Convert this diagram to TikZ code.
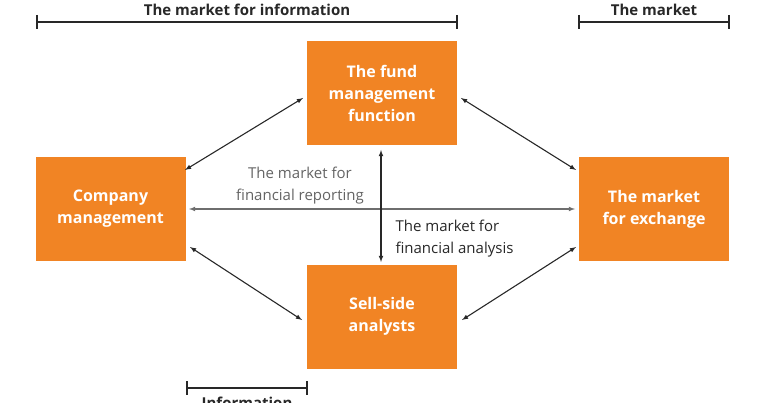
\documentclass[tikz,border=0pt]{standalone}
\usepackage{fontspec}
\setmainfont{Open Sans}
\begin{document}
\begin{tikzpicture}[x=1pt,y=-1pt,
  box/.style={fill={rgb,255:red,241;green,132;blue,36}, minimum width=150pt, minimum height=104pt, inner sep=0pt, align=center, text=white, font=\fontsize{16}{22}\selectfont\bfseries},
  arr/.style={<->, >=latex, line width=1.1pt, draw={rgb,255:red,40;green,40;blue,40}},
  garr/.style={<->, >=latex, line width=1.1pt, draw={rgb,255:red,110;green,110;blue,110}},
  lab/.style={font=\fontsize{15}{22}\selectfont, align=center},
  brk/.style={line width=1.4pt, draw={rgb,255:red,40;green,40;blue,40}},
  btxt/.style={font=\fontsize{15}{18}\selectfont\bfseries, text={rgb,255:red,40;green,40;blue,40}}]
\useasboundingbox (0,0) rectangle (767,403);
\node[box] (fund) at (382,93.5) {The fund\\management\\function};
\node[box] (comp) at (110.5,209) {Company\\management};
\node[box] (exch) at (654,209) {The market\\for exchange};
\node[box] (sell) at (382,316.5) {Sell-side\\analysts};
\draw[arr] (185,170) -- (303,98);
\draw[arr] (461,98) -- (576,170);
\draw[arr] (190,247) -- (302,320);
\draw[arr] (462,320) -- (576,247);
\draw[garr] (189,209) -- (575,209);
\draw[arr] (381,150) -- (381,262);
\node[lab, text={rgb,255:red,100;green,100;blue,100}] (frep) at (300,186) {The market for\\financial reporting};
\node[lab, text={rgb,255:red,40;green,40;blue,40}, anchor=west, align=left] (fan) at (392,239) {The market for\\financial analysis};
\coordinate (a1) at (37,22); \coordinate (a2) at (457,22);
\draw[brk] (a1) -- (a2) (37,15) -- (37,29) (457,15) -- (457,29);
\node[btxt] (t1) at (247,10) {The market for information};
\coordinate (b1) at (579,22); \coordinate (b2) at (729,22);
\draw[brk] (b1) -- (b2) (579,15) -- (579,29) (729,15) -- (729,29);
\node[btxt] (t2) at (654,10) {The market};
\coordinate (c1) at (187,388); \coordinate (c2) at (307,388);
\draw[brk] (c1) -- (c2) (187,381) -- (187,395) (307,381) -- (307,395);
\node[btxt] (t3) at (247,403) {Information};
\end{tikzpicture}
\end{document}
